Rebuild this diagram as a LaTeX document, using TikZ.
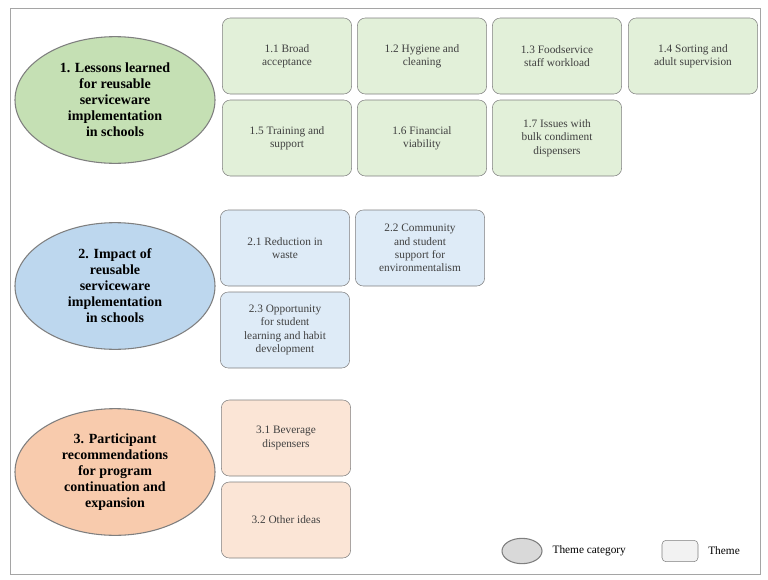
\documentclass[tikz,border=0pt]{standalone}
\usepackage{fontspec}
\setmainfont{Liberation Serif}
\usetikzlibrary{positioning,shapes.geometric}
\definecolor{catgreen}{HTML}{C5E0B4}
\definecolor{catblue}{HTML}{BDD7EE}
\definecolor{catorange}{HTML}{F8CBAD}
\definecolor{thgreen}{HTML}{E2F0D9}
\definecolor{thblue}{HTML}{DEEBF7}
\definecolor{thorange}{HTML}{FBE5D6}
\definecolor{edgegray}{HTML}{7F7F7F}
\begin{document}
\begin{tikzpicture}[x=0.75pt,y=-0.75pt,
        category/.style={ellipse, draw=edgegray, thick, minimum width=150pt, minimum height=95pt, align=center, font=\fontsize{10.5}{12}\selectfont\bfseries},
        theme/.style={draw=edgegray, rounded corners=6pt, minimum width=97pt, minimum height=57pt, align=center, font=\fontsize{8.5}{10}\selectfont, text=black!75},
        gtheme/.style={theme, fill=thgreen},
        btheme/.style={theme, fill=thblue},
        otheme/.style={theme, fill=thorange}
    ]
    \useasboundingbox (0,0) rectangle (768,579);
    \draw[edgegray!70] (10,8) rectangle (760,574);

    % categories
    \node[category, fill=catgreen] (cat1) at (115,100) {1. Lessons learned\\for reusable\\serviceware\\implementation\\in schools};
    \node[category, fill=catblue] (cat2) at (115,286) {2. Impact of\\reusable\\serviceware\\implementation\\in schools};
    \node[category, fill=catorange] (cat3) at (115,472) {3. Participant\\recommendations\\for program\\continuation and\\expansion};

    % themes 1
    \node[gtheme] (t11) at (287,56) {1.1 Broad\\acceptance};
    \node[gtheme] (t12) at (422,56) {1.2 Hygiene and\\cleaning};
    \node[gtheme] (t13) at (557,56) {1.3 Foodservice\\staff workload};
    \node[gtheme] (t14) at (693,56) {1.4 Sorting and\\adult supervision};
    \node[gtheme] (t15) at (287,138) {1.5 Training and\\support};
    \node[gtheme] (t16) at (422,138) {1.6 Financial\\viability};
    \node[gtheme] (t17) at (557,138) {1.7 Issues with\\bulk condiment\\dispensers};

    % themes 2
    \node[btheme] (t21) at (285,248) {2.1 Reduction in\\waste};
    \node[btheme] (t22) at (420,248) {2.2 Community\\and student\\support for\\environmentalism};
    \node[btheme] (t23) at (285,330) {2.3 Opportunity\\for student\\learning and habit\\development};

    % themes 3
    \node[otheme] (t31) at (286,438) {3.1 Beverage\\dispensers};
    \node[otheme] (t32) at (286,520) {3.2 Other ideas};

    % legend
    \node[ellipse, draw=edgegray, thick, fill=black!15, minimum width=30pt, minimum height=19pt] (lcat) at (522,551) {};
    \node[right=4pt of lcat, font=\fontsize{8.5}{10}\selectfont] (lcattext) {Theme category};
    \node[draw=edgegray, rounded corners=3pt, fill=black!5, minimum width=27pt, minimum height=16pt] (lth) at (680,551) {};
    \node[right=4pt of lth, font=\fontsize{8.5}{10}\selectfont] (lthtext) {Theme};
\end{tikzpicture}
\end{document}
